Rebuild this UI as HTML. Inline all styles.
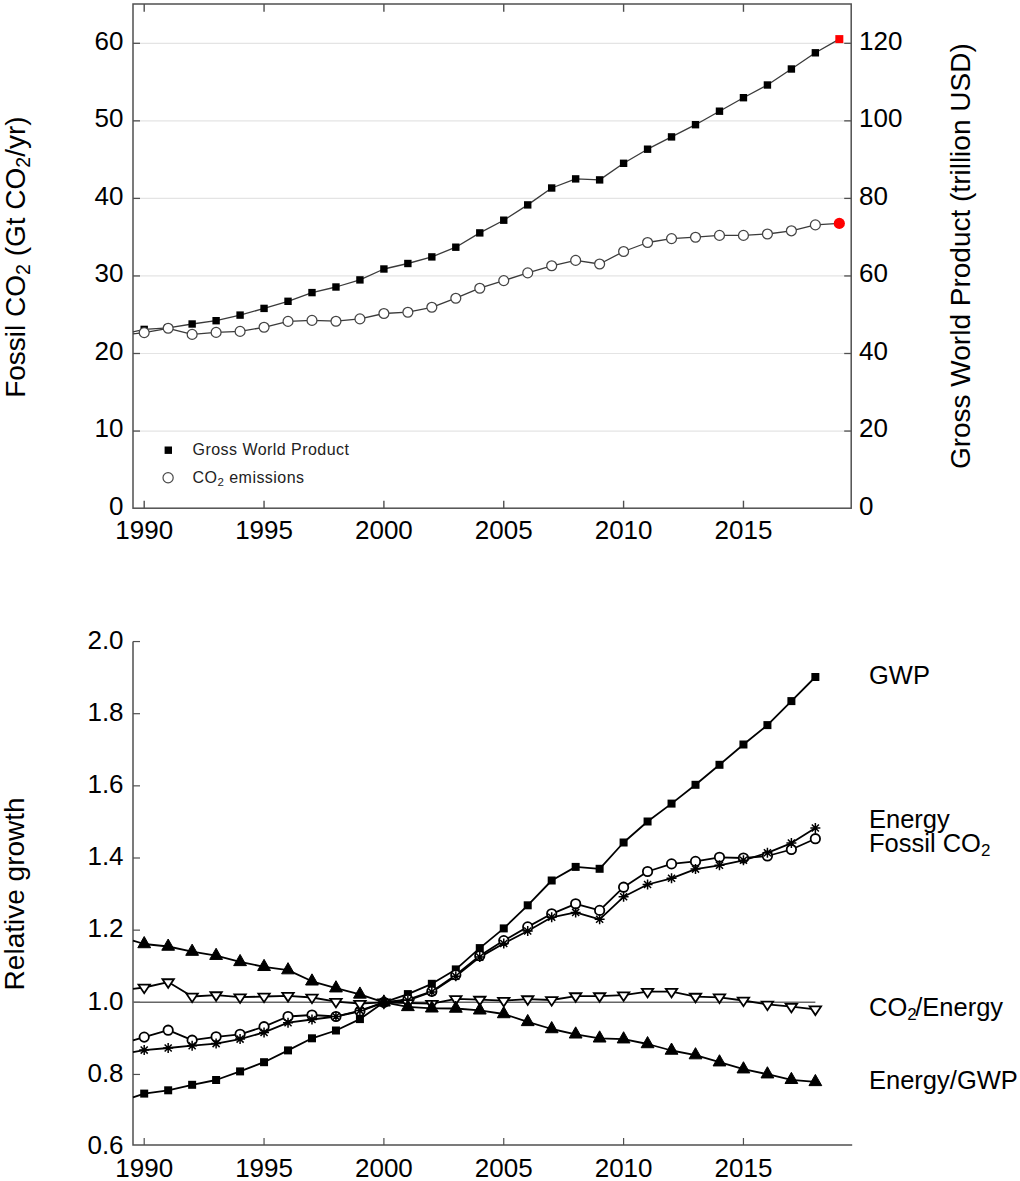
<!DOCTYPE html>
<html><head><meta charset="utf-8"><style>
html,body{margin:0;padding:0;background:#fff;width:1020px;height:1181px;overflow:hidden}
svg{display:block}
</style></head><body>
<svg width="1020" height="1181" viewBox="0 0 1020 1181">
<rect width="1020" height="1181" fill="#fff"/>
<line x1="133" y1="431.05" x2="851.2" y2="431.05" stroke="#e4e4e4" stroke-width="1.2"/>
<line x1="133" y1="353.5" x2="851.2" y2="353.5" stroke="#e4e4e4" stroke-width="1.2"/>
<line x1="133" y1="275.95" x2="851.2" y2="275.95" stroke="#e4e4e4" stroke-width="1.2"/>
<line x1="133" y1="198.4" x2="851.2" y2="198.4" stroke="#e4e4e4" stroke-width="1.2"/>
<line x1="133" y1="120.85" x2="851.2" y2="120.85" stroke="#e4e4e4" stroke-width="1.2"/>
<line x1="133" y1="43.3" x2="851.2" y2="43.3" stroke="#e4e4e4" stroke-width="1.2"/>
<line x1="133" y1="431.05" x2="140" y2="431.05" stroke="#505050" stroke-width="1.3"/>
<line x1="844.2" y1="431.05" x2="851.2" y2="431.05" stroke="#505050" stroke-width="1.3"/>
<line x1="133" y1="353.5" x2="140" y2="353.5" stroke="#505050" stroke-width="1.3"/>
<line x1="844.2" y1="353.5" x2="851.2" y2="353.5" stroke="#505050" stroke-width="1.3"/>
<line x1="133" y1="275.95" x2="140" y2="275.95" stroke="#505050" stroke-width="1.3"/>
<line x1="844.2" y1="275.95" x2="851.2" y2="275.95" stroke="#505050" stroke-width="1.3"/>
<line x1="133" y1="198.4" x2="140" y2="198.4" stroke="#505050" stroke-width="1.3"/>
<line x1="844.2" y1="198.4" x2="851.2" y2="198.4" stroke="#505050" stroke-width="1.3"/>
<line x1="133" y1="120.85" x2="140" y2="120.85" stroke="#505050" stroke-width="1.3"/>
<line x1="844.2" y1="120.85" x2="851.2" y2="120.85" stroke="#505050" stroke-width="1.3"/>
<line x1="133" y1="43.3" x2="140" y2="43.3" stroke="#505050" stroke-width="1.3"/>
<line x1="844.2" y1="43.3" x2="851.2" y2="43.3" stroke="#505050" stroke-width="1.3"/>
<line x1="144.2" y1="508.2" x2="144.2" y2="500.7" stroke="#505050" stroke-width="1.4"/>
<line x1="144.2" y1="4" x2="144.2" y2="11.8" stroke="#505050" stroke-width="1.4"/>
<line x1="264.05" y1="508.2" x2="264.05" y2="500.7" stroke="#505050" stroke-width="1.4"/>
<line x1="264.05" y1="4" x2="264.05" y2="11.8" stroke="#505050" stroke-width="1.4"/>
<line x1="383.9" y1="508.2" x2="383.9" y2="500.7" stroke="#505050" stroke-width="1.4"/>
<line x1="383.9" y1="4" x2="383.9" y2="11.8" stroke="#505050" stroke-width="1.4"/>
<line x1="503.75" y1="508.2" x2="503.75" y2="500.7" stroke="#505050" stroke-width="1.4"/>
<line x1="503.75" y1="4" x2="503.75" y2="11.8" stroke="#505050" stroke-width="1.4"/>
<line x1="623.6" y1="508.2" x2="623.6" y2="500.7" stroke="#505050" stroke-width="1.4"/>
<line x1="623.6" y1="4" x2="623.6" y2="11.8" stroke="#505050" stroke-width="1.4"/>
<line x1="743.45" y1="508.2" x2="743.45" y2="500.7" stroke="#505050" stroke-width="1.4"/>
<line x1="743.45" y1="4" x2="743.45" y2="11.8" stroke="#505050" stroke-width="1.4"/>
<rect x="133" y="4" width="718.2" height="504.2" fill="none" stroke="#505050" stroke-width="1.5"/>
<polyline points="133,331.8 144.2,329.4 168.17,327.8 192.14,324 216.11,320.7 240.08,315.1 264.05,308.4 288.02,301.3 311.99,292.6 335.96,287 359.93,279.9 383.9,269 407.87,263.5 431.84,256.9 455.81,247.2 479.78,232.9 503.75,220.2 527.72,204.9 551.69,188 575.66,178.9 599.63,179.9 623.6,163.3 647.57,149.2 671.54,136.9 695.51,124.7 719.48,111.2 743.45,97.7 767.42,85 791.39,69 815.36,52.8 839.33,39.1" fill="none" stroke="#3a3a3a" stroke-width="1.3" stroke-linejoin="round"/>
<polyline points="133,333.9 144.2,332.6 168.17,328.3 192.14,334.4 216.11,332.4 240.08,331.4 264.05,327.3 288.02,321.4 311.99,320.4 335.96,321.2 359.93,318.9 383.9,313.5 407.87,312.2 431.84,307.3 455.81,298.2 479.78,288.2 503.75,280.6 527.72,272.9 551.69,265.8 575.66,260.4 599.63,264 623.6,251.5 647.57,242.5 671.54,238.6 695.51,237.2 719.48,235.4 743.45,235.4 767.42,234 791.39,230.8 815.36,224.9 839.33,223.4" fill="none" stroke="#3a3a3a" stroke-width="1.3" stroke-linejoin="round"/>
<rect x="140.5" y="325.7" width="7.4" height="7.4" fill="#000"/>
<rect x="164.47" y="324.1" width="7.4" height="7.4" fill="#000"/>
<rect x="188.44" y="320.3" width="7.4" height="7.4" fill="#000"/>
<rect x="212.41" y="317" width="7.4" height="7.4" fill="#000"/>
<rect x="236.38" y="311.4" width="7.4" height="7.4" fill="#000"/>
<rect x="260.35" y="304.7" width="7.4" height="7.4" fill="#000"/>
<rect x="284.32" y="297.6" width="7.4" height="7.4" fill="#000"/>
<rect x="308.29" y="288.9" width="7.4" height="7.4" fill="#000"/>
<rect x="332.26" y="283.3" width="7.4" height="7.4" fill="#000"/>
<rect x="356.23" y="276.2" width="7.4" height="7.4" fill="#000"/>
<rect x="380.2" y="265.3" width="7.4" height="7.4" fill="#000"/>
<rect x="404.17" y="259.8" width="7.4" height="7.4" fill="#000"/>
<rect x="428.14" y="253.2" width="7.4" height="7.4" fill="#000"/>
<rect x="452.11" y="243.5" width="7.4" height="7.4" fill="#000"/>
<rect x="476.08" y="229.2" width="7.4" height="7.4" fill="#000"/>
<rect x="500.05" y="216.5" width="7.4" height="7.4" fill="#000"/>
<rect x="524.02" y="201.2" width="7.4" height="7.4" fill="#000"/>
<rect x="547.99" y="184.3" width="7.4" height="7.4" fill="#000"/>
<rect x="571.96" y="175.2" width="7.4" height="7.4" fill="#000"/>
<rect x="595.93" y="176.2" width="7.4" height="7.4" fill="#000"/>
<rect x="619.9" y="159.6" width="7.4" height="7.4" fill="#000"/>
<rect x="643.87" y="145.5" width="7.4" height="7.4" fill="#000"/>
<rect x="667.84" y="133.2" width="7.4" height="7.4" fill="#000"/>
<rect x="691.81" y="121" width="7.4" height="7.4" fill="#000"/>
<rect x="715.78" y="107.5" width="7.4" height="7.4" fill="#000"/>
<rect x="739.75" y="94" width="7.4" height="7.4" fill="#000"/>
<rect x="763.72" y="81.3" width="7.4" height="7.4" fill="#000"/>
<rect x="787.69" y="65.3" width="7.4" height="7.4" fill="#000"/>
<rect x="811.66" y="49.1" width="7.4" height="7.4" fill="#000"/>
<rect x="835.33" y="35.1" width="8" height="8" fill="#ff0000"/>
<circle cx="144.2" cy="332.6" r="4.95" fill="#fff" stroke="#444" stroke-width="1.25"/>
<circle cx="168.17" cy="328.3" r="4.95" fill="#fff" stroke="#444" stroke-width="1.25"/>
<circle cx="192.14" cy="334.4" r="4.95" fill="#fff" stroke="#444" stroke-width="1.25"/>
<circle cx="216.11" cy="332.4" r="4.95" fill="#fff" stroke="#444" stroke-width="1.25"/>
<circle cx="240.08" cy="331.4" r="4.95" fill="#fff" stroke="#444" stroke-width="1.25"/>
<circle cx="264.05" cy="327.3" r="4.95" fill="#fff" stroke="#444" stroke-width="1.25"/>
<circle cx="288.02" cy="321.4" r="4.95" fill="#fff" stroke="#444" stroke-width="1.25"/>
<circle cx="311.99" cy="320.4" r="4.95" fill="#fff" stroke="#444" stroke-width="1.25"/>
<circle cx="335.96" cy="321.2" r="4.95" fill="#fff" stroke="#444" stroke-width="1.25"/>
<circle cx="359.93" cy="318.9" r="4.95" fill="#fff" stroke="#444" stroke-width="1.25"/>
<circle cx="383.9" cy="313.5" r="4.95" fill="#fff" stroke="#444" stroke-width="1.25"/>
<circle cx="407.87" cy="312.2" r="4.95" fill="#fff" stroke="#444" stroke-width="1.25"/>
<circle cx="431.84" cy="307.3" r="4.95" fill="#fff" stroke="#444" stroke-width="1.25"/>
<circle cx="455.81" cy="298.2" r="4.95" fill="#fff" stroke="#444" stroke-width="1.25"/>
<circle cx="479.78" cy="288.2" r="4.95" fill="#fff" stroke="#444" stroke-width="1.25"/>
<circle cx="503.75" cy="280.6" r="4.95" fill="#fff" stroke="#444" stroke-width="1.25"/>
<circle cx="527.72" cy="272.9" r="4.95" fill="#fff" stroke="#444" stroke-width="1.25"/>
<circle cx="551.69" cy="265.8" r="4.95" fill="#fff" stroke="#444" stroke-width="1.25"/>
<circle cx="575.66" cy="260.4" r="4.95" fill="#fff" stroke="#444" stroke-width="1.25"/>
<circle cx="599.63" cy="264" r="4.95" fill="#fff" stroke="#444" stroke-width="1.25"/>
<circle cx="623.6" cy="251.5" r="4.95" fill="#fff" stroke="#444" stroke-width="1.25"/>
<circle cx="647.57" cy="242.5" r="4.95" fill="#fff" stroke="#444" stroke-width="1.25"/>
<circle cx="671.54" cy="238.6" r="4.95" fill="#fff" stroke="#444" stroke-width="1.25"/>
<circle cx="695.51" cy="237.2" r="4.95" fill="#fff" stroke="#444" stroke-width="1.25"/>
<circle cx="719.48" cy="235.4" r="4.95" fill="#fff" stroke="#444" stroke-width="1.25"/>
<circle cx="743.45" cy="235.4" r="4.95" fill="#fff" stroke="#444" stroke-width="1.25"/>
<circle cx="767.42" cy="234" r="4.95" fill="#fff" stroke="#444" stroke-width="1.25"/>
<circle cx="791.39" cy="230.8" r="4.95" fill="#fff" stroke="#444" stroke-width="1.25"/>
<circle cx="815.36" cy="224.9" r="4.95" fill="#fff" stroke="#444" stroke-width="1.25"/>
<circle cx="839.33" cy="223.4" r="5.6" fill="#ff0000"/>
<rect x="164.6" y="446.5" width="7.4" height="7.4" fill="#000"/>
<circle cx="168.1" cy="477.8" r="5.1" fill="#fff" stroke="#4a4a4a" stroke-width="1.2"/>
<g font-family="Liberation Sans, sans-serif" font-size="16" fill="#222" letter-spacing="0.45">
<text x="192.6" y="455">Gross World Product</text>
<text x="192.6" y="482.6">CO<tspan font-size="11.5" dy="3.2">2</tspan><tspan dy="-3.2"> emissions</tspan></text>
</g>
<g font-family="Liberation Sans, sans-serif" font-size="26" fill="#000">
<text x="123.4" y="514.9" text-anchor="end">0</text>
<text x="123.4" y="437.35" text-anchor="end">10</text>
<text x="123.4" y="359.8" text-anchor="end">20</text>
<text x="123.4" y="282.25" text-anchor="end">30</text>
<text x="123.4" y="204.7" text-anchor="end">40</text>
<text x="123.4" y="127.15" text-anchor="end">50</text>
<text x="123.4" y="49.6" text-anchor="end">60</text>
<text x="859" y="514.9">0</text>
<text x="859" y="437.35">20</text>
<text x="859" y="359.8">40</text>
<text x="859" y="282.25">60</text>
<text x="859" y="204.7">80</text>
<text x="859" y="127.15">100</text>
<text x="859" y="49.6">120</text>
<text x="144.2" y="539" text-anchor="middle">1990</text>
<text x="264.05" y="539" text-anchor="middle">1995</text>
<text x="383.9" y="539" text-anchor="middle">2000</text>
<text x="503.75" y="539" text-anchor="middle">2005</text>
<text x="623.6" y="539" text-anchor="middle">2010</text>
<text x="743.45" y="539" text-anchor="middle">2015</text>
</g>
<text font-family="Liberation Sans, sans-serif" font-size="28" fill="#000" transform="translate(25,257.1) rotate(-90)" text-anchor="middle">Fossil CO<tspan font-size="19.5" dy="4.5">2</tspan><tspan dy="-4.5"> (Gt CO</tspan><tspan font-size="19.5" dy="4.5">2</tspan><tspan dy="-4.5">/yr)</tspan></text>
<text font-family="Liberation Sans, sans-serif" font-size="28" fill="#000" transform="translate(970,256.2) rotate(-90)" text-anchor="middle">Gross World Product (trillion USD)</text>
<polyline points="133,641.55 133,1145 852.2,1145" fill="none" stroke="#505050" stroke-width="1.5"/>
<line x1="133" y1="1074.45" x2="140" y2="1074.45" stroke="#505050" stroke-width="1.2"/>
<line x1="133" y1="1002.3" x2="140" y2="1002.3" stroke="#505050" stroke-width="1.2"/>
<line x1="133" y1="930.15" x2="140" y2="930.15" stroke="#505050" stroke-width="1.2"/>
<line x1="133" y1="858" x2="140" y2="858" stroke="#505050" stroke-width="1.2"/>
<line x1="133" y1="785.85" x2="140" y2="785.85" stroke="#505050" stroke-width="1.2"/>
<line x1="133" y1="713.7" x2="140" y2="713.7" stroke="#505050" stroke-width="1.2"/>
<line x1="133" y1="641.55" x2="140" y2="641.55" stroke="#505050" stroke-width="1.2"/>
<line x1="144.2" y1="1145" x2="144.2" y2="1138" stroke="#505050" stroke-width="1.2"/>
<line x1="264.05" y1="1145" x2="264.05" y2="1138" stroke="#505050" stroke-width="1.2"/>
<line x1="383.9" y1="1145" x2="383.9" y2="1138" stroke="#505050" stroke-width="1.2"/>
<line x1="503.75" y1="1145" x2="503.75" y2="1138" stroke="#505050" stroke-width="1.2"/>
<line x1="623.6" y1="1145" x2="623.6" y2="1138" stroke="#505050" stroke-width="1.2"/>
<line x1="743.45" y1="1145" x2="743.45" y2="1138" stroke="#505050" stroke-width="1.2"/>
<line x1="133" y1="1002.3" x2="815.36" y2="1002.3" stroke="#666" stroke-width="1.4"/>
<polyline points="133,1097.4 144.2,1093.6 168.17,1090.3 192.14,1084.8 216.11,1080 240.08,1071.4 264.05,1062.2 288.02,1050.4 311.99,1038.3 335.96,1030.5 359.93,1019.1 383.9,1002.3 407.87,994.1 431.84,983.8 455.81,969.4 479.78,948.1 503.75,928.4 527.72,905.3 551.69,880.5 575.66,866.9 599.63,868.8 623.6,842.5 647.57,821.5 671.54,803.6 695.51,784.8 719.48,764.8 743.45,744.5 767.42,725.1 791.39,701.1 815.36,677" fill="none" stroke="#000" stroke-width="1.8" stroke-linejoin="round"/>
<polyline points="133,1040.3 144.2,1037.1 168.17,1030.2 192.14,1040.2 216.11,1036.8 240.08,1034.3 264.05,1026.7 288.02,1016.5 311.99,1015 335.96,1016.5 359.93,1011.3 383.9,1002.3 407.87,999.5 431.84,991.4 455.81,974.9 479.78,955.7 503.75,940.6 527.72,926.9 551.69,913.8 575.66,903.8 599.63,910.4 623.6,887.2 647.57,871.5 671.54,863.9 695.51,861.4 719.48,857.3 743.45,858 767.42,856 791.39,849.5 815.36,838.7" fill="none" stroke="#000" stroke-width="1.8" stroke-linejoin="round"/>
<polyline points="133,1052.2 144.2,1050.1 168.17,1048 192.14,1045.7 216.11,1043.6 240.08,1039.1 264.05,1032.4 288.02,1022.7 311.99,1019.5 335.96,1016.5 359.93,1010.6 383.9,1002.3 407.87,1000.5 431.84,992 455.81,976.3 479.78,957.1 503.75,943.5 527.72,931 551.69,917.3 575.66,912.4 599.63,919.3 623.6,896.8 647.57,884.5 671.54,878.3 695.51,869.1 719.48,865.3 743.45,860.3 767.42,852.8 791.39,843.1 815.36,828" fill="none" stroke="#000" stroke-width="1.8" stroke-linejoin="round"/>
<polyline points="133,988.8 144.2,987.5 168.17,982.1 192.14,996.5 216.11,995.1 240.08,997.2 264.05,996.5 288.02,995.8 311.99,997.5 335.96,1001.7 359.93,1003.7 383.9,1002.3 407.87,1003 431.84,1003.7 455.81,998.9 479.78,999.6 503.75,1000.7 527.72,999.1 551.69,1000 575.66,996.1 599.63,996.1 623.6,995.2 647.57,991.7 671.54,991.7 695.51,996.6 719.48,997.3 743.45,1000.5 767.42,1004.4 791.39,1006.7 815.36,1009.3" fill="none" stroke="#000" stroke-width="1.8" stroke-linejoin="round"/>
<polyline points="133,940.7 144.2,944 168.17,946.5 192.14,951.6 216.11,955.7 240.08,961.9 264.05,966.8 288.02,970.1 311.99,981.3 335.96,988.2 359.93,994.4 383.9,1002.3 407.87,1006.9 431.84,1008.3 455.81,1008.5 479.78,1010.3 503.75,1014 527.72,1021.9 551.69,1029 575.66,1034.3 599.63,1038.3 623.6,1039.2 647.57,1044 671.54,1050.5 695.51,1055.1 719.48,1062.2 743.45,1069.2 767.42,1074.2 791.39,1079.8 815.36,1081.9" fill="none" stroke="#000" stroke-width="1.8" stroke-linejoin="round"/>
<rect x="140.2" y="1089.6" width="8" height="8" fill="#000"/>
<rect x="164.17" y="1086.3" width="8" height="8" fill="#000"/>
<rect x="188.14" y="1080.8" width="8" height="8" fill="#000"/>
<rect x="212.11" y="1076" width="8" height="8" fill="#000"/>
<rect x="236.08" y="1067.4" width="8" height="8" fill="#000"/>
<rect x="260.05" y="1058.2" width="8" height="8" fill="#000"/>
<rect x="284.02" y="1046.4" width="8" height="8" fill="#000"/>
<rect x="307.99" y="1034.3" width="8" height="8" fill="#000"/>
<rect x="331.96" y="1026.5" width="8" height="8" fill="#000"/>
<rect x="355.93" y="1015.1" width="8" height="8" fill="#000"/>
<rect x="379.9" y="998.3" width="8" height="8" fill="#000"/>
<rect x="403.87" y="990.1" width="8" height="8" fill="#000"/>
<rect x="427.84" y="979.8" width="8" height="8" fill="#000"/>
<rect x="451.81" y="965.4" width="8" height="8" fill="#000"/>
<rect x="475.78" y="944.1" width="8" height="8" fill="#000"/>
<rect x="499.75" y="924.4" width="8" height="8" fill="#000"/>
<rect x="523.72" y="901.3" width="8" height="8" fill="#000"/>
<rect x="547.69" y="876.5" width="8" height="8" fill="#000"/>
<rect x="571.66" y="862.9" width="8" height="8" fill="#000"/>
<rect x="595.63" y="864.8" width="8" height="8" fill="#000"/>
<rect x="619.6" y="838.5" width="8" height="8" fill="#000"/>
<rect x="643.57" y="817.5" width="8" height="8" fill="#000"/>
<rect x="667.54" y="799.6" width="8" height="8" fill="#000"/>
<rect x="691.51" y="780.8" width="8" height="8" fill="#000"/>
<rect x="715.48" y="760.8" width="8" height="8" fill="#000"/>
<rect x="739.45" y="740.5" width="8" height="8" fill="#000"/>
<rect x="763.42" y="721.1" width="8" height="8" fill="#000"/>
<rect x="787.39" y="697.1" width="8" height="8" fill="#000"/>
<rect x="811.36" y="673" width="8" height="8" fill="#000"/>
<circle cx="144.2" cy="1037.1" r="4.7" fill="#fff" stroke="#000" stroke-width="1.8"/>
<circle cx="168.17" cy="1030.2" r="4.7" fill="#fff" stroke="#000" stroke-width="1.8"/>
<circle cx="192.14" cy="1040.2" r="4.7" fill="#fff" stroke="#000" stroke-width="1.8"/>
<circle cx="216.11" cy="1036.8" r="4.7" fill="#fff" stroke="#000" stroke-width="1.8"/>
<circle cx="240.08" cy="1034.3" r="4.7" fill="#fff" stroke="#000" stroke-width="1.8"/>
<circle cx="264.05" cy="1026.7" r="4.7" fill="#fff" stroke="#000" stroke-width="1.8"/>
<circle cx="288.02" cy="1016.5" r="4.7" fill="#fff" stroke="#000" stroke-width="1.8"/>
<circle cx="311.99" cy="1015" r="4.7" fill="#fff" stroke="#000" stroke-width="1.8"/>
<circle cx="335.96" cy="1016.5" r="4.7" fill="#fff" stroke="#000" stroke-width="1.8"/>
<circle cx="359.93" cy="1011.3" r="4.7" fill="#fff" stroke="#000" stroke-width="1.8"/>
<circle cx="383.9" cy="1002.3" r="4.7" fill="#fff" stroke="#000" stroke-width="1.8"/>
<circle cx="407.87" cy="999.5" r="4.7" fill="#fff" stroke="#000" stroke-width="1.8"/>
<circle cx="431.84" cy="991.4" r="4.7" fill="#fff" stroke="#000" stroke-width="1.8"/>
<circle cx="455.81" cy="974.9" r="4.7" fill="#fff" stroke="#000" stroke-width="1.8"/>
<circle cx="479.78" cy="955.7" r="4.7" fill="#fff" stroke="#000" stroke-width="1.8"/>
<circle cx="503.75" cy="940.6" r="4.7" fill="#fff" stroke="#000" stroke-width="1.8"/>
<circle cx="527.72" cy="926.9" r="4.7" fill="#fff" stroke="#000" stroke-width="1.8"/>
<circle cx="551.69" cy="913.8" r="4.7" fill="#fff" stroke="#000" stroke-width="1.8"/>
<circle cx="575.66" cy="903.8" r="4.7" fill="#fff" stroke="#000" stroke-width="1.8"/>
<circle cx="599.63" cy="910.4" r="4.7" fill="#fff" stroke="#000" stroke-width="1.8"/>
<circle cx="623.6" cy="887.2" r="4.7" fill="#fff" stroke="#000" stroke-width="1.8"/>
<circle cx="647.57" cy="871.5" r="4.7" fill="#fff" stroke="#000" stroke-width="1.8"/>
<circle cx="671.54" cy="863.9" r="4.7" fill="#fff" stroke="#000" stroke-width="1.8"/>
<circle cx="695.51" cy="861.4" r="4.7" fill="#fff" stroke="#000" stroke-width="1.8"/>
<circle cx="719.48" cy="857.3" r="4.7" fill="#fff" stroke="#000" stroke-width="1.8"/>
<circle cx="743.45" cy="858" r="4.7" fill="#fff" stroke="#000" stroke-width="1.8"/>
<circle cx="767.42" cy="856" r="4.7" fill="#fff" stroke="#000" stroke-width="1.8"/>
<circle cx="791.39" cy="849.5" r="4.7" fill="#fff" stroke="#000" stroke-width="1.8"/>
<circle cx="815.36" cy="838.7" r="4.7" fill="#fff" stroke="#000" stroke-width="1.8"/>
<path d="M144.2 1045.1V1055.1M139.2 1050.1H149.2M140.66 1046.56L147.74 1053.64M140.66 1053.64L147.74 1046.56" stroke="#000" stroke-width="1.5" fill="none"/>
<path d="M168.17 1043V1053M163.17 1048H173.17M164.63 1044.46L171.71 1051.54M164.63 1051.54L171.71 1044.46" stroke="#000" stroke-width="1.5" fill="none"/>
<path d="M192.14 1040.7V1050.7M187.14 1045.7H197.14M188.6 1042.16L195.68 1049.24M188.6 1049.24L195.68 1042.16" stroke="#000" stroke-width="1.5" fill="none"/>
<path d="M216.11 1038.6V1048.6M211.11 1043.6H221.11M212.57 1040.06L219.65 1047.14M212.57 1047.14L219.65 1040.06" stroke="#000" stroke-width="1.5" fill="none"/>
<path d="M240.08 1034.1V1044.1M235.08 1039.1H245.08M236.54 1035.56L243.62 1042.64M236.54 1042.64L243.62 1035.56" stroke="#000" stroke-width="1.5" fill="none"/>
<path d="M264.05 1027.4V1037.4M259.05 1032.4H269.05M260.51 1028.86L267.59 1035.94M260.51 1035.94L267.59 1028.86" stroke="#000" stroke-width="1.5" fill="none"/>
<path d="M288.02 1017.7V1027.7M283.02 1022.7H293.02M284.48 1019.16L291.56 1026.24M284.48 1026.24L291.56 1019.16" stroke="#000" stroke-width="1.5" fill="none"/>
<path d="M311.99 1014.5V1024.5M306.99 1019.5H316.99M308.45 1015.96L315.53 1023.04M308.45 1023.04L315.53 1015.96" stroke="#000" stroke-width="1.5" fill="none"/>
<path d="M335.96 1011.5V1021.5M330.96 1016.5H340.96M332.42 1012.96L339.5 1020.04M332.42 1020.04L339.5 1012.96" stroke="#000" stroke-width="1.5" fill="none"/>
<path d="M359.93 1005.6V1015.6M354.93 1010.6H364.93M356.39 1007.06L363.47 1014.14M356.39 1014.14L363.47 1007.06" stroke="#000" stroke-width="1.5" fill="none"/>
<path d="M383.9 997.3V1007.3M378.9 1002.3H388.9M380.36 998.76L387.44 1005.84M380.36 1005.84L387.44 998.76" stroke="#000" stroke-width="1.5" fill="none"/>
<path d="M407.87 995.5V1005.5M402.87 1000.5H412.87M404.33 996.96L411.41 1004.04M404.33 1004.04L411.41 996.96" stroke="#000" stroke-width="1.5" fill="none"/>
<path d="M431.84 987V997M426.84 992H436.84M428.3 988.46L435.38 995.54M428.3 995.54L435.38 988.46" stroke="#000" stroke-width="1.5" fill="none"/>
<path d="M455.81 971.3V981.3M450.81 976.3H460.81M452.27 972.76L459.35 979.84M452.27 979.84L459.35 972.76" stroke="#000" stroke-width="1.5" fill="none"/>
<path d="M479.78 952.1V962.1M474.78 957.1H484.78M476.24 953.56L483.32 960.64M476.24 960.64L483.32 953.56" stroke="#000" stroke-width="1.5" fill="none"/>
<path d="M503.75 938.5V948.5M498.75 943.5H508.75M500.21 939.96L507.29 947.04M500.21 947.04L507.29 939.96" stroke="#000" stroke-width="1.5" fill="none"/>
<path d="M527.72 926V936M522.72 931H532.72M524.18 927.46L531.26 934.54M524.18 934.54L531.26 927.46" stroke="#000" stroke-width="1.5" fill="none"/>
<path d="M551.69 912.3V922.3M546.69 917.3H556.69M548.15 913.76L555.23 920.84M548.15 920.84L555.23 913.76" stroke="#000" stroke-width="1.5" fill="none"/>
<path d="M575.66 907.4V917.4M570.66 912.4H580.66M572.12 908.86L579.2 915.94M572.12 915.94L579.2 908.86" stroke="#000" stroke-width="1.5" fill="none"/>
<path d="M599.63 914.3V924.3M594.63 919.3H604.63M596.09 915.76L603.17 922.84M596.09 922.84L603.17 915.76" stroke="#000" stroke-width="1.5" fill="none"/>
<path d="M623.6 891.8V901.8M618.6 896.8H628.6M620.06 893.26L627.14 900.34M620.06 900.34L627.14 893.26" stroke="#000" stroke-width="1.5" fill="none"/>
<path d="M647.57 879.5V889.5M642.57 884.5H652.57M644.03 880.96L651.11 888.04M644.03 888.04L651.11 880.96" stroke="#000" stroke-width="1.5" fill="none"/>
<path d="M671.54 873.3V883.3M666.54 878.3H676.54M668 874.76L675.08 881.84M668 881.84L675.08 874.76" stroke="#000" stroke-width="1.5" fill="none"/>
<path d="M695.51 864.1V874.1M690.51 869.1H700.51M691.97 865.56L699.05 872.64M691.97 872.64L699.05 865.56" stroke="#000" stroke-width="1.5" fill="none"/>
<path d="M719.48 860.3V870.3M714.48 865.3H724.48M715.94 861.76L723.02 868.84M715.94 868.84L723.02 861.76" stroke="#000" stroke-width="1.5" fill="none"/>
<path d="M743.45 855.3V865.3M738.45 860.3H748.45M739.91 856.76L746.99 863.84M739.91 863.84L746.99 856.76" stroke="#000" stroke-width="1.5" fill="none"/>
<path d="M767.42 847.8V857.8M762.42 852.8H772.42M763.88 849.26L770.96 856.34M763.88 856.34L770.96 849.26" stroke="#000" stroke-width="1.5" fill="none"/>
<path d="M791.39 838.1V848.1M786.39 843.1H796.39M787.85 839.56L794.93 846.64M787.85 846.64L794.93 839.56" stroke="#000" stroke-width="1.5" fill="none"/>
<path d="M815.36 823V833M810.36 828H820.36M811.82 824.46L818.9 831.54M811.82 831.54L818.9 824.46" stroke="#000" stroke-width="1.5" fill="none"/>
<path d="M138.5 984.63L149.9 984.63L144.2 993.23Z" fill="#fff" stroke="#000" stroke-width="1.8" stroke-linejoin="miter"/>
<path d="M162.47 979.23L173.87 979.23L168.17 987.83Z" fill="#fff" stroke="#000" stroke-width="1.8" stroke-linejoin="miter"/>
<path d="M186.44 993.63L197.84 993.63L192.14 1002.23Z" fill="#fff" stroke="#000" stroke-width="1.8" stroke-linejoin="miter"/>
<path d="M210.41 992.23L221.81 992.23L216.11 1000.83Z" fill="#fff" stroke="#000" stroke-width="1.8" stroke-linejoin="miter"/>
<path d="M234.38 994.33L245.78 994.33L240.08 1002.93Z" fill="#fff" stroke="#000" stroke-width="1.8" stroke-linejoin="miter"/>
<path d="M258.35 993.63L269.75 993.63L264.05 1002.23Z" fill="#fff" stroke="#000" stroke-width="1.8" stroke-linejoin="miter"/>
<path d="M282.32 992.93L293.72 992.93L288.02 1001.53Z" fill="#fff" stroke="#000" stroke-width="1.8" stroke-linejoin="miter"/>
<path d="M306.29 994.63L317.69 994.63L311.99 1003.23Z" fill="#fff" stroke="#000" stroke-width="1.8" stroke-linejoin="miter"/>
<path d="M330.26 998.83L341.66 998.83L335.96 1007.43Z" fill="#fff" stroke="#000" stroke-width="1.8" stroke-linejoin="miter"/>
<path d="M354.23 1000.83L365.63 1000.83L359.93 1009.43Z" fill="#fff" stroke="#000" stroke-width="1.8" stroke-linejoin="miter"/>
<path d="M378.2 999.43L389.6 999.43L383.9 1008.03Z" fill="#fff" stroke="#000" stroke-width="1.8" stroke-linejoin="miter"/>
<path d="M402.17 1000.13L413.57 1000.13L407.87 1008.73Z" fill="#fff" stroke="#000" stroke-width="1.8" stroke-linejoin="miter"/>
<path d="M426.14 1000.83L437.54 1000.83L431.84 1009.43Z" fill="#fff" stroke="#000" stroke-width="1.8" stroke-linejoin="miter"/>
<path d="M450.11 996.03L461.51 996.03L455.81 1004.63Z" fill="#fff" stroke="#000" stroke-width="1.8" stroke-linejoin="miter"/>
<path d="M474.08 996.73L485.48 996.73L479.78 1005.33Z" fill="#fff" stroke="#000" stroke-width="1.8" stroke-linejoin="miter"/>
<path d="M498.05 997.83L509.45 997.83L503.75 1006.43Z" fill="#fff" stroke="#000" stroke-width="1.8" stroke-linejoin="miter"/>
<path d="M522.02 996.23L533.42 996.23L527.72 1004.83Z" fill="#fff" stroke="#000" stroke-width="1.8" stroke-linejoin="miter"/>
<path d="M545.99 997.13L557.39 997.13L551.69 1005.73Z" fill="#fff" stroke="#000" stroke-width="1.8" stroke-linejoin="miter"/>
<path d="M569.96 993.23L581.36 993.23L575.66 1001.83Z" fill="#fff" stroke="#000" stroke-width="1.8" stroke-linejoin="miter"/>
<path d="M593.93 993.23L605.33 993.23L599.63 1001.83Z" fill="#fff" stroke="#000" stroke-width="1.8" stroke-linejoin="miter"/>
<path d="M617.9 992.33L629.3 992.33L623.6 1000.93Z" fill="#fff" stroke="#000" stroke-width="1.8" stroke-linejoin="miter"/>
<path d="M641.87 988.83L653.27 988.83L647.57 997.43Z" fill="#fff" stroke="#000" stroke-width="1.8" stroke-linejoin="miter"/>
<path d="M665.84 988.83L677.24 988.83L671.54 997.43Z" fill="#fff" stroke="#000" stroke-width="1.8" stroke-linejoin="miter"/>
<path d="M689.81 993.73L701.21 993.73L695.51 1002.33Z" fill="#fff" stroke="#000" stroke-width="1.8" stroke-linejoin="miter"/>
<path d="M713.78 994.43L725.18 994.43L719.48 1003.03Z" fill="#fff" stroke="#000" stroke-width="1.8" stroke-linejoin="miter"/>
<path d="M737.75 997.63L749.15 997.63L743.45 1006.23Z" fill="#fff" stroke="#000" stroke-width="1.8" stroke-linejoin="miter"/>
<path d="M761.72 1001.53L773.12 1001.53L767.42 1010.13Z" fill="#fff" stroke="#000" stroke-width="1.8" stroke-linejoin="miter"/>
<path d="M785.69 1003.83L797.09 1003.83L791.39 1012.43Z" fill="#fff" stroke="#000" stroke-width="1.8" stroke-linejoin="miter"/>
<path d="M809.66 1006.43L821.06 1006.43L815.36 1015.03Z" fill="#fff" stroke="#000" stroke-width="1.8" stroke-linejoin="miter"/>
<path d="M137.8 947.73L150.6 947.73L144.2 936.53Z" fill="#000" stroke="#000" stroke-width="1" stroke-linejoin="miter"/>
<path d="M161.77 950.23L174.57 950.23L168.17 939.03Z" fill="#000" stroke="#000" stroke-width="1" stroke-linejoin="miter"/>
<path d="M185.74 955.33L198.54 955.33L192.14 944.13Z" fill="#000" stroke="#000" stroke-width="1" stroke-linejoin="miter"/>
<path d="M209.71 959.43L222.51 959.43L216.11 948.23Z" fill="#000" stroke="#000" stroke-width="1" stroke-linejoin="miter"/>
<path d="M233.68 965.63L246.48 965.63L240.08 954.43Z" fill="#000" stroke="#000" stroke-width="1" stroke-linejoin="miter"/>
<path d="M257.65 970.53L270.45 970.53L264.05 959.33Z" fill="#000" stroke="#000" stroke-width="1" stroke-linejoin="miter"/>
<path d="M281.62 973.83L294.42 973.83L288.02 962.63Z" fill="#000" stroke="#000" stroke-width="1" stroke-linejoin="miter"/>
<path d="M305.59 985.03L318.39 985.03L311.99 973.83Z" fill="#000" stroke="#000" stroke-width="1" stroke-linejoin="miter"/>
<path d="M329.56 991.93L342.36 991.93L335.96 980.73Z" fill="#000" stroke="#000" stroke-width="1" stroke-linejoin="miter"/>
<path d="M353.53 998.13L366.33 998.13L359.93 986.93Z" fill="#000" stroke="#000" stroke-width="1" stroke-linejoin="miter"/>
<path d="M377.5 1006.03L390.3 1006.03L383.9 994.83Z" fill="#000" stroke="#000" stroke-width="1" stroke-linejoin="miter"/>
<path d="M401.47 1010.63L414.27 1010.63L407.87 999.43Z" fill="#000" stroke="#000" stroke-width="1" stroke-linejoin="miter"/>
<path d="M425.44 1012.03L438.24 1012.03L431.84 1000.83Z" fill="#000" stroke="#000" stroke-width="1" stroke-linejoin="miter"/>
<path d="M449.41 1012.23L462.21 1012.23L455.81 1001.03Z" fill="#000" stroke="#000" stroke-width="1" stroke-linejoin="miter"/>
<path d="M473.38 1014.03L486.18 1014.03L479.78 1002.83Z" fill="#000" stroke="#000" stroke-width="1" stroke-linejoin="miter"/>
<path d="M497.35 1017.73L510.15 1017.73L503.75 1006.53Z" fill="#000" stroke="#000" stroke-width="1" stroke-linejoin="miter"/>
<path d="M521.32 1025.63L534.12 1025.63L527.72 1014.43Z" fill="#000" stroke="#000" stroke-width="1" stroke-linejoin="miter"/>
<path d="M545.29 1032.73L558.09 1032.73L551.69 1021.53Z" fill="#000" stroke="#000" stroke-width="1" stroke-linejoin="miter"/>
<path d="M569.26 1038.03L582.06 1038.03L575.66 1026.83Z" fill="#000" stroke="#000" stroke-width="1" stroke-linejoin="miter"/>
<path d="M593.23 1042.03L606.03 1042.03L599.63 1030.83Z" fill="#000" stroke="#000" stroke-width="1" stroke-linejoin="miter"/>
<path d="M617.2 1042.93L630 1042.93L623.6 1031.73Z" fill="#000" stroke="#000" stroke-width="1" stroke-linejoin="miter"/>
<path d="M641.17 1047.73L653.97 1047.73L647.57 1036.53Z" fill="#000" stroke="#000" stroke-width="1" stroke-linejoin="miter"/>
<path d="M665.14 1054.23L677.94 1054.23L671.54 1043.03Z" fill="#000" stroke="#000" stroke-width="1" stroke-linejoin="miter"/>
<path d="M689.11 1058.83L701.91 1058.83L695.51 1047.63Z" fill="#000" stroke="#000" stroke-width="1" stroke-linejoin="miter"/>
<path d="M713.08 1065.93L725.88 1065.93L719.48 1054.73Z" fill="#000" stroke="#000" stroke-width="1" stroke-linejoin="miter"/>
<path d="M737.05 1072.93L749.85 1072.93L743.45 1061.73Z" fill="#000" stroke="#000" stroke-width="1" stroke-linejoin="miter"/>
<path d="M761.02 1077.93L773.82 1077.93L767.42 1066.73Z" fill="#000" stroke="#000" stroke-width="1" stroke-linejoin="miter"/>
<path d="M784.99 1083.53L797.79 1083.53L791.39 1072.33Z" fill="#000" stroke="#000" stroke-width="1" stroke-linejoin="miter"/>
<path d="M808.96 1085.63L821.76 1085.63L815.36 1074.43Z" fill="#000" stroke="#000" stroke-width="1" stroke-linejoin="miter"/>
<g font-family="Liberation Sans, sans-serif" font-size="26" fill="#000">
<text x="123.6" y="1153.9" text-anchor="end">0.6</text>
<text x="123.6" y="1081.75" text-anchor="end">0.8</text>
<text x="123.6" y="1009.6" text-anchor="end">1.0</text>
<text x="123.6" y="937.45" text-anchor="end">1.2</text>
<text x="123.6" y="865.3" text-anchor="end">1.4</text>
<text x="123.6" y="793.15" text-anchor="end">1.6</text>
<text x="123.6" y="721" text-anchor="end">1.8</text>
<text x="123.6" y="648.85" text-anchor="end">2.0</text>
<text x="144.2" y="1176.5" text-anchor="middle">1990</text>
<text x="264.05" y="1176.5" text-anchor="middle">1995</text>
<text x="383.9" y="1176.5" text-anchor="middle">2000</text>
<text x="503.75" y="1176.5" text-anchor="middle">2005</text>
<text x="623.6" y="1176.5" text-anchor="middle">2010</text>
<text x="743.45" y="1176.5" text-anchor="middle">2015</text>
</g>
<text font-family="Liberation Sans, sans-serif" font-size="28" fill="#000" transform="translate(24.3,893.9) rotate(-90)" text-anchor="middle">Relative growth</text>
<g font-family="Liberation Sans, sans-serif" font-size="25.5" fill="#000">
<text x="869" y="683.6">GWP</text>
<text x="869" y="827.9">Energy</text>
<text x="869" y="852.3">Fossil CO<tspan font-size="17" dy="4">2</tspan></text>
<text x="869" y="1016.2">CO<tspan font-size="17" dy="4">2</tspan><tspan dy="-4" dx="-1.5">/Energy</tspan></text>
<text x="869" y="1088.5">Energy/GWP</text>
</g>
</svg>
</body></html>
